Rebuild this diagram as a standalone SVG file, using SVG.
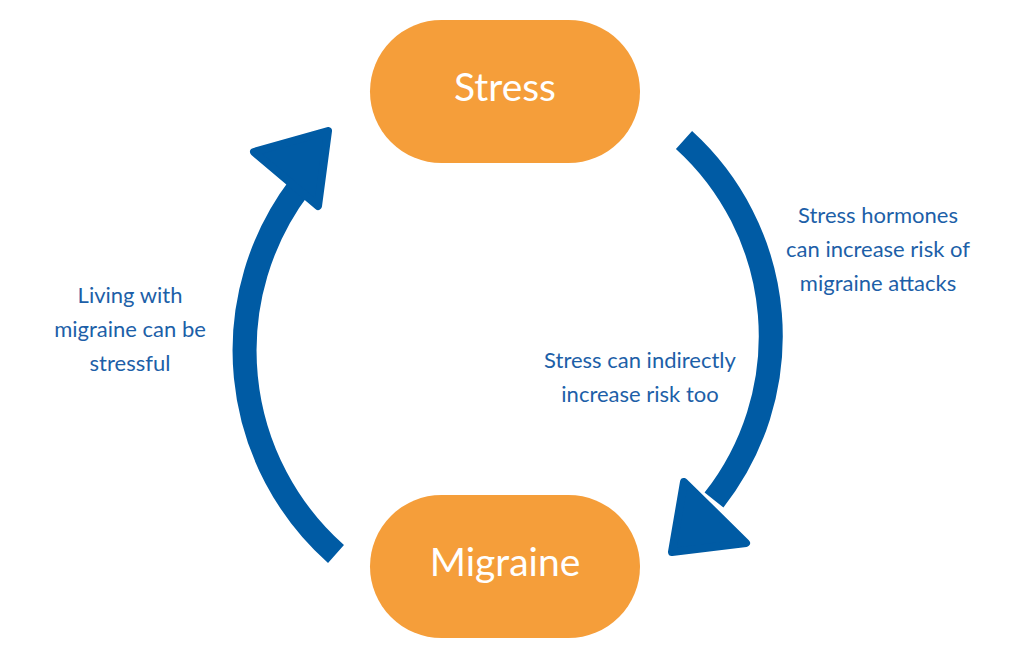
<svg xmlns="http://www.w3.org/2000/svg" width="1024" height="668" viewBox="0 0 1024 668">
<style>
.pill{fill:#F59E3A}
.pt{font-family:Lato,"Open Sans",sans-serif;font-size:39px;fill:#fff;text-anchor:middle}
.lb{font-family:Lato,"Open Sans",sans-serif;font-size:22px;fill:#1D5FA8;text-anchor:middle}
.arc{fill:none;stroke:#005BA4;stroke-width:24}
.head{fill:#005BA4;stroke:#005BA4;stroke-width:8;stroke-linejoin:round}
</style>
<rect width="1024" height="668" fill="#fff"/>
<g id="stress"><rect class="pill" x="370" y="20" width="270" height="143" rx="71.5"/><text class="pt" x="505" y="101">Stress</text></g>
<g id="migraine"><rect class="pill" x="370" y="495" width="270" height="143" rx="71.5"/><text class="pt" x="505" y="576">Migraine</text></g>
<g id="connectors">
<path class="arc" d="M684 140 A265 265 0 0 1 714 500"/>
<polygon class="head" points="672,552 684,482 746,543"/>
<path class="arc" d="M336 554 A272 272 0 0 1 300 186"/>
<polygon class="head" points="328,131 254,152 318,206"/>
</g>
<g id="labels">
<text class="lb" x="878" y="223">Stress hormones</text>
<text class="lb" x="878" y="257">can increase risk of</text>
<text class="lb" x="878" y="291">migraine attacks</text>
<text class="lb" x="640" y="368">Stress can indirectly</text>
<text class="lb" x="640" y="402">increase risk too</text>
<text class="lb" x="130" y="303">Living with</text>
<text class="lb" x="130" y="337">migraine can be</text>
<text class="lb" x="130" y="371">stressful</text>
</g>
</svg>
